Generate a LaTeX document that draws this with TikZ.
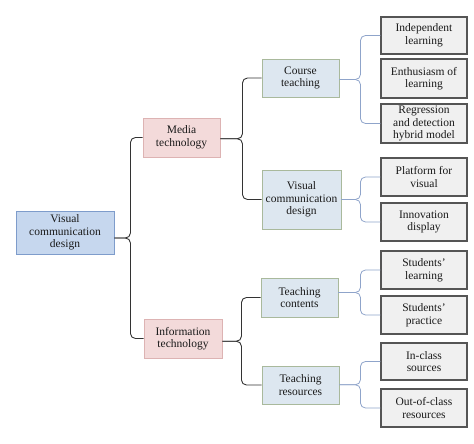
\documentclass[tikz,border=0pt]{standalone}
\usepackage{fontspec}
\setmainfont{Liberation Serif}
\usetikzlibrary{calc}
\definecolor{rootfill}{HTML}{C6D7EE}
\definecolor{rootdraw}{HTML}{7E9CCB}
\definecolor{midfill}{HTML}{F3DADA}
\definecolor{middraw}{HTML}{DDB3B3}
\definecolor{lvlfill}{HTML}{DDE7F0}
\definecolor{lvldraw}{HTML}{A9B99C}
\definecolor{leaffill}{HTML}{F0F0F0}
\definecolor{leafdraw}{HTML}{555555}
\definecolor{darkline}{HTML}{333333}
\definecolor{blueline}{HTML}{8FA4CA}
\definecolor{txt}{HTML}{1A1A1A}
\begin{document}
\begin{tikzpicture}[x=1pt,y=-1pt,
  box/.style={rectangle, align=center, inner sep=1pt, text=txt,
    font=\fontsize{11.5}{12.5}\selectfont},
  rootbox/.style={box, fill=rootfill, draw=rootdraw, line width=0.9pt, minimum width=98pt, minimum height=43pt},
  midbox/.style={box, fill=midfill, draw=middraw, line width=0.9pt, minimum width=77pt, minimum height=39pt},
  lvlbox/.style={box, fill=lvlfill, draw=lvldraw, line width=0.9pt, minimum width=78pt, minimum height=38pt},
  leafbox/.style={box, fill=leaffill, draw=leafdraw, line width=1.1pt, minimum width=86pt, minimum height=38pt},
  dconn/.style={draw=darkline, line width=0.9pt, rounded corners=5pt},
  bconn/.style={draw=blueline, line width=0.8pt, rounded corners=5pt}]
\useasboundingbox (0,0) rectangle (474,444);

% root
\node[rootbox] (root) at (65,232.5) {Visual\\communication\\design};
% level 1
\node[midbox] (media) at (181.5,137.5) {Media\\technology};
\node[midbox, minimum width=78pt] (info) at (183,338.5) {Information\\technology};
% level 2
\node[lvlbox, minimum width=77pt] (course) at (300.5,78) {Course\\teaching};
\node[lvlbox, minimum width=79pt, minimum height=59pt] (vcd) at (301.5,199.5) {Visual\\communication\\design};
\node[lvlbox, minimum width=77pt, minimum height=39pt] (tcont) at (299.5,297.5) {Teaching\\contents};
\node[lvlbox, minimum width=77pt] (tres) at (300.5,385) {Teaching\\resources};
% leaves
\node[leafbox, minimum height=37pt] (l1) at (424,35.5) {Independent\\learning};
\node[leafbox, minimum height=39pt] (l2) at (424,78.5) {Enthusiasm of\\learning};
\node[leafbox, minimum height=39pt] (l3) at (424,123.5) {Regression\\and detection\\hybrid model};
\node[leafbox] (l4) at (424,177) {Platform for\\visual};
\node[leafbox] (l5) at (424,222) {Innovation\\display};
\node[leafbox] (l6) at (424,270) {Students'\\learning};
\node[leafbox] (l7) at (424,315) {Students'\\practice};
\node[leafbox, minimum height=37pt] (l8) at (424,361.5) {In-class\\sources};
\node[leafbox] (l9) at (424,408) {Out-of-class\\resources};

% exit points
\coordinate (rootx) at (root.east |- 0,238);
\coordinate (mediax) at ($(media.east |- course.west)!0.5!(media.east |- vcd.west)$);
\coordinate (infox) at ($(info.east |- tcont.west)!0.5!(info.east |- tres.west)$);
\coordinate (coursex) at ($(course.east |- l1.west)!0.5!(course.east |- l3.west)$);
\coordinate (vcdx) at ($(vcd.east |- l4.west)!0.5!(vcd.east |- l5.west)$);
\coordinate (tcontx) at ($(tcont.east |- l6.west)!0.5!(tcont.east |- l7.west)$);
\coordinate (tresx) at ($(tres.east |- l8.west)!0.5!(tres.east |- l9.west)$);

% dark brackets
\draw[dconn] (rootx) -- ++(16,0) |- (media.west);
\draw[dconn] (rootx) -- ++(16,0) |- (info.west);
\draw[dconn] (mediax) -- ++(22,0) |- (course.west);
\draw[dconn] (mediax) -- ++(22,0) |- (vcd.west);
\draw[dconn] (infox) -- ++(19,0) |- (tcont.west);
\draw[dconn] (infox) -- ++(19,0) |- (tres.west);
% blue brackets
\draw[bconn] (coursex) -- ++(21,0) |- (l1.west);
\draw[bconn] (coursex) -- ++(21,0) |- (l3.west);
\draw[bconn] (vcdx) -- ++(19,0) |- (l4.west);
\draw[bconn] (vcdx) -- ++(19,0) |- (l5.west);
\draw[bconn] (tcontx) -- ++(22,0) |- (l6.west);
\draw[bconn] (tcontx) -- ++(22,0) |- (l7.west);
\draw[bconn] (tresx) -- ++(21,0) |- (l8.west);
\draw[bconn] (tresx) -- ++(21,0) |- (l9.west);
\end{tikzpicture}
\end{document}
